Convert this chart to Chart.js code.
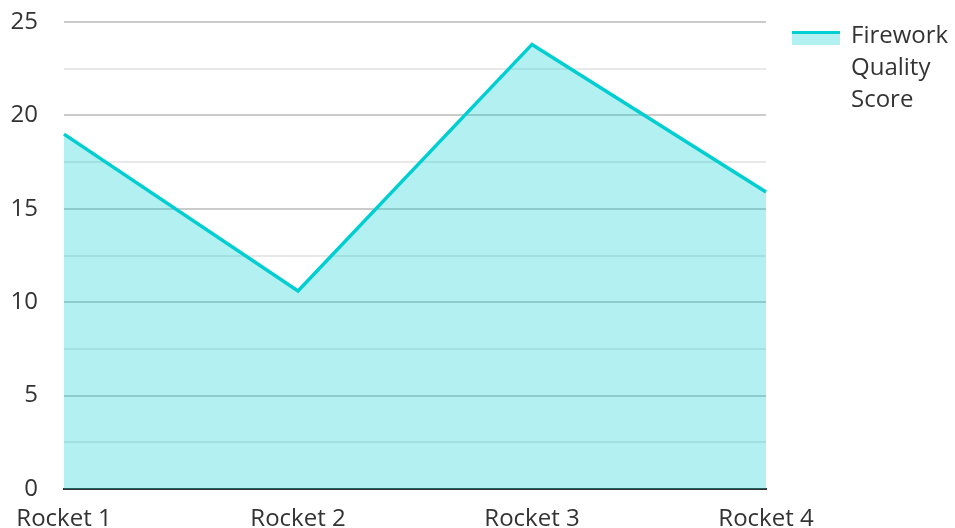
<!DOCTYPE html>
<html>
<head>
<meta charset="utf-8">
<script src="https://cdn.jsdelivr.net/npm/chart.js@4"></script>
<style>
  body { margin: 0; background: #fff; font-family: 'Open Sans', sans-serif; }
  #wrap { position: relative; width: 955px; height: 528px; }
  #chartBox { position: absolute; left: 0; top: 0; width: 840px; height: 528px; }
  #legend { position: absolute; left: 792px; top: 18px; display: flex; color: #333; }
  .sw { width: 48px; height: 11px; margin-top: 13px; border-top: 3px solid; }
  .lt { margin-left: 11px; width: 110px; font-size: 24px; line-height: 32px; }
</style>
</head>
<body>
<div id="wrap">
  <div id="chartBox"><canvas id="c"></canvas></div>
  <div id="legend"></div>
</div>
<script>
const categories = ['Rocket 1', 'Rocket 2', 'Rocket 3', 'Rocket 4']
const seriesName = 'Firework Quality Score'
const scores = [19.0, 10.6, 23.8, 15.9]

const lineColor = 'rgb(0,206,209)'
const fillColor = 'rgba(0,206,209,0.3)'

Chart.defaults.font.family = "'Open Sans', sans-serif"
Chart.defaults.color = '#333'

new Chart(document.getElementById('c'), {
  type: 'line',
  data: {
    labels: categories,
    datasets: [{
      label: seriesName,
      data: scores,
      borderColor: lineColor,
      backgroundColor: fillColor,
      borderWidth: 3.5,
      fill: 'origin',
      tension: 0,
      pointRadius: 0,
    }],
  },
  options: {
    responsive: true,
    maintainAspectRatio: false,
    animation: false,
    layout: { padding: { top: 22, right: 74, left: 0, bottom: 0 } },
    plugins: { legend: { display: false }, tooltip: { enabled: false } },
    scales: {
      x: {
        offset: false,
        grid: { display: false },
        border: { color: '#333', width: 2 },
        ticks: { font: { size: 24 }, padding: 8, maxRotation: 0 },
        afterFit: s => { s.height = 39 },
      },
      y: {
        min: 0,
        max: 25,
        border: { display: false },
        grid: {
          drawTicks: false,
          color: c => (c.tick && c.tick.value % 5 === 0) ? '#cbcbcb' : '#e8e8e8',
          lineWidth: 2,
        },
        ticks: {
          stepSize: 2.5,
          padding: 26,
          font: { size: 24 },
          callback: v => v % 5 === 0 ? v : '',
        },
        // keep the tick gap from pushing the plot down
        afterFit: s => { s.width = 64; s.paddingTop = 0; s.paddingBottom = 0 },
      },
    },
  },
})

document.getElementById('legend').innerHTML = `
  <div class="sw" style="border-color:${lineColor};background:${fillColor}"></div>
  <div class="lt">${seriesName}</div>`
</script>
</body>
</html>
